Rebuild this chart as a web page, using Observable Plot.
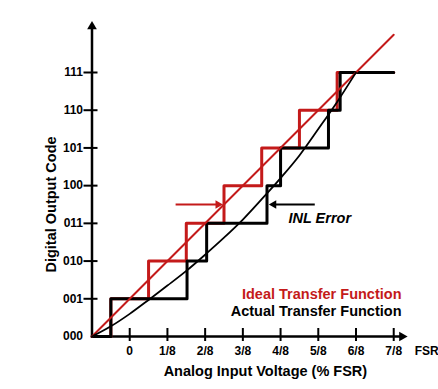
<!DOCTYPE html>
<html>
<head>
<meta charset="utf-8">
<script src="https://cdn.jsdelivr.net/npm/d3@7"></script>
<script src="https://cdn.jsdelivr.net/npm/@observablehq/plot@0.6"></script>
<style>
  html, body { margin: 0; padding: 0; background: #fff; }
  svg { display: block; }
</style>
</head>
<body>
<div id="chart"></div>
<script>
// ---- data ----
const yCodes = ["000", "001", "010", "011", "100", "101", "110", "111"];
const yCodePos = [0, 1, 2, 3, 4, 5, 6, 7];
const xTickLabels = ["0", "1/8", "2/8", "3/8", "4/8", "5/8", "6/8", "7/8"];
const xTickPos = [1, 2, 3, 4, 5, 6, 7, 8];

const idealStepX = [0, 0.5, 1.5, 2.5, 3.5, 4.5, 5.5, 6.5, 8];
const idealStepY = [0, 1, 2, 3, 4, 5, 6, 7, 7];
const actualStepX = [0, 0.5, 2.52, 3.04, 4.64, 5.0, 6.27, 6.58, 8];
const actualStepY = [0, 1, 2, 3, 4, 5, 6, 7, 7];

const idealLineX = [0, 8];
const idealLineY = [0, 8];
const actualCurveX = [0, 0.5, 1, 1.5, 2, 2.5, 3, 3.5, 4, 4.5, 5, 5.5, 6, 6.5, 7];
const actualCurveY = [0, 0.27, 0.6, 0.97, 1.35, 1.74, 2.17, 2.62, 3.1, 3.64, 4.2, 4.8, 5.5, 6.22, 7.0];

const axisEnd = 8.22;
const idealArrow = {x1: 2.23, x2: 3.48, y: 3.5};
const inlArrow = {x1: 5.92, x2: 4.68, y: 3.5};

const RED = "#c41a1a";
const FONT = "'Liberation Sans', Arial, sans-serif";

const zip = (xs, ys) => xs.map((x, i) => ({x, y: ys[i]}));
const idealSteps = zip(idealStepX, idealStepY);
const actualSteps = zip(actualStepX, actualStepY);
const idealLine = zip(idealLineX, idealLineY);
const actualCurve = zip(actualCurveX, actualCurveY);
const yTicks = zip(yCodePos.map(() => 0), yCodePos).map((d, i) => ({...d, label: yCodes[i]}));
const xTicks = xTickPos.map((x, i) => ({x, y: 0, label: xTickLabels[i]}));

const chart = Plot.plot({
  width: 438,
  height: 389,
  marginLeft: 91.5,
  marginRight: 29.7,
  marginTop: 19.2,
  marginBottom: 53,
  style: {fontFamily: FONT, background: "#fff", overflow: "visible"},
  x: {domain: [0, 8.4], axis: null},
  y: {domain: [0, 8.4], axis: null},
  marks: [
    // axes
    Plot.ruleY([0], {x1: 0, x2: axisEnd, stroke: "black", strokeWidth: 2.5}),
    Plot.ruleX([0], {y1: 0, y2: axisEnd, stroke: "black", strokeWidth: 2.5}),
    Plot.dot([{x: axisEnd, y: 0}], {x: "x", y: "y", symbol: "triangle", r: 3.6, fill: "black", rotate: 90}),
    Plot.dot([{x: 0, y: axisEnd}], {x: "x", y: "y", symbol: "triangle", r: 3.6, fill: "black"}),
    // x ticks
    Plot.ruleX(xTicks, {x: "x", y1: "y", y2: "y", insetTop: -8, insetBottom: -5, stroke: "black", strokeWidth: 2}),
    Plot.text(xTicks, {x: "x", y: "y", text: "label", dy: 14.7, fontSize: 12, fontWeight: "bold", fill: "black"}),
    Plot.text([{x: 8, y: 0}], {x: "x", y: "y", text: () => "FSR", dx: 21, dy: 14.7, textAnchor: "start", fontSize: 12, fontWeight: "bold", fill: "black"}),
    // y ticks
    Plot.ruleY(yTicks.slice(1), {y: "y", x1: "x", x2: "x", insetLeft: -8, insetRight: -6, stroke: "black", strokeWidth: 2}),
    Plot.text(yTicks, {x: "x", y: "y", text: "label", dx: -9, textAnchor: "end", fontSize: 12, fontWeight: "bold", fill: "black"}),
    // staircases
    Plot.line(idealSteps, {x: "x", y: "y", curve: "step-after", stroke: RED, strokeWidth: 3}),
    Plot.line(actualSteps, {x: "x", y: "y", curve: "step-after", stroke: "black", strokeWidth: 3}),
    // transfer lines
    Plot.line(idealLine, {x: "x", y: "y", stroke: RED, strokeWidth: 2}),
    Plot.line(actualCurve, {x: "x", y: "y", curve: "monotone-x", stroke: "black", strokeWidth: 1.8}),
    // arrows
    Plot.ruleY([idealArrow], {y: "y", x1: "x1", x2: d => d.x2 - 0.12, stroke: RED, strokeWidth: 2}),
    Plot.dot([idealArrow], {x: d => d.x2 - 0.14, y: "y", symbol: "triangle", r: 3.2, fill: RED, rotate: 90}),
    Plot.ruleY([inlArrow], {y: "y", x1: "x1", x2: d => d.x2 + 0.12, stroke: "black", strokeWidth: 1.8}),
    Plot.dot([inlArrow], {x: d => d.x2 + 0.14, y: "y", symbol: "triangle", r: 3.2, fill: "black", rotate: -90}),
    Plot.text([{x: 5.21, y: 3.14}], {x: "x", y: "y", text: () => "INL Error", textAnchor: "start", fontSize: 14.5, fontWeight: "bold", fontStyle: "italic", fill: "black"}),
    // legend
    Plot.text(["Ideal Transfer Function"], {frameAnchor: "bottom-right", text: d => d, dx: -7.3, dy: -37.6, textAnchor: "end", fontSize: 14.5, fontWeight: "bold", fill: RED}),
    Plot.text(["Actual Transfer Function"], {frameAnchor: "bottom-right", text: d => d, dx: -7.3, dy: -20.6, textAnchor: "end", fontSize: 14.5, fontWeight: "bold", fill: "black"}),
    // axis titles
    Plot.text(["Analog Input Voltage (% FSR)"], {frameAnchor: "bottom", text: d => d, dx: 15, dy: 39.4, fontSize: 14.5, fontWeight: "bold", fill: "black"}),
    Plot.text([{x: 0, y: 3.5}], {x: "x", y: "y", text: () => "Digital Output Code", dx: -41, rotate: -90, fontSize: 14.5, fontWeight: "bold", fill: "black"})
  ]
});
document.getElementById("chart").appendChild(chart);
</script>
</body>
</html>
